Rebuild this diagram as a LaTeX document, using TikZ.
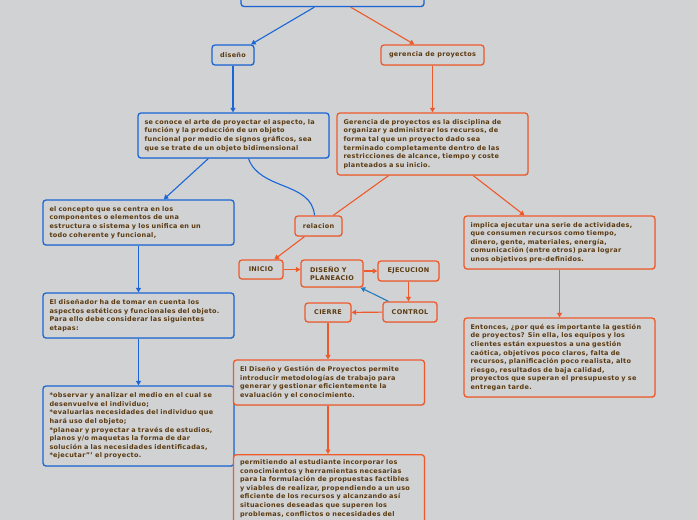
\documentclass[tikz,border=0pt]{standalone}
\usepackage{fontspec}
\setmainfont{DejaVu Sans}[LetterSpace=4.5]
\usetikzlibrary{arrows.meta,shadows}
\definecolor{bggray}{HTML}{D1D2D4}
\definecolor{mapblue}{HTML}{1A66D6}
\definecolor{maporange}{HTML}{EF5A2A}
\definecolor{backblue}{HTML}{1F7BC2}
\definecolor{textbrown}{HTML}{5A3A10}

\begin{document}
\begin{tikzpicture}[x=1pt,y=-1pt,
  box/.style={rounded corners=3pt, line width=1.3pt, fill=bggray, text=textbrown,
    font=\fontsize{6.5}{8.6}\selectfont\bfseries,
    drop shadow={shadow xshift=0.6pt,shadow yshift=-0.9pt,opacity=0.25}},
  bluebox/.style={box, draw=mapblue},
  orangebox/.style={box, draw=maporange},
  bigtext/.style={text width=178pt, align=left, inner xsep=6.5pt, inner ysep=4pt,
    execute at begin node={\hyphenpenalty=10000}},
  blueline/.style={draw=mapblue, line width=1.1pt, -{Triangle[length=4.5pt,width=5pt]}},
  orangeline/.style={draw=maporange, line width=1.1pt, -{Triangle[length=4.5pt,width=5pt]}}]
  \useasboundingbox (0,0) rectangle (697,520);
  \fill[bggray] (0,0) rectangle (697,520);
  \clip (0,0) rectangle (697,520);

  \node[bluebox, minimum width=183pt, minimum height=20pt] (top) at (332.5,-3.5) {relacion de diseño y gerencia de proyectos};
  \node[bluebox, minimum width=42pt, minimum height=20pt] (diseno) at (233,55) {diseño};
  \node[orangebox, minimum width=103pt, minimum height=20pt] (gerencia) at (432.5,55) {gerencia de proyectos};

  \node[bluebox, bigtext, minimum height=45pt] (arte) at (233.5,135.5) {se conoce el arte de proyectar el aspecto, la\\función y la producción de un objeto\\funcional por medio de signos gráficos, sea\\que se trate de un objeto bidimensional};
  \node[orangebox, bigtext, minimum height=62pt] (disciplina) at (432.5,144) {Gerencia de proyectos es la disciplina de\\organizar y administrar los recursos, de\\forma tal que un proyecto dado sea\\terminado completamente dentro de las\\restricciones de alcance, tiempo y coste\\planteados a su inicio.};
  \node[bluebox, bigtext, minimum height=45pt] (concepto) at (138.5,222.5) {el concepto que se centra en los\\componentes o elementos de una\\estructura o sistema y los unifica en un\\todo coherente y funcional,};
  \node[bluebox, bigtext, minimum height=45pt] (disenador) at (138.5,315.5) {El diseñador ha de tomar en cuenta los\\aspectos estéticos y funcionales del objeto.\\Para ello debe considerar las siguientes\\etapas:};
  \node[bluebox, bigtext, minimum height=80pt] (etapas) at (138.5,426) {*observar y analizar el medio en el cual se\\desenvuelve el individuo;\\{}*evaluarlas necesidades del individuo que\\hará uso del objeto;\\{}*planear y proyectar a través de estudios,\\planos y/o maquetas la forma de dar\\solución a las necesidades identificadas,\\{}*ejecutar"' el proyecto.};

  \node[orangebox, minimum width=47pt, minimum height=20pt] (relacion) at (318.5,226) {relacion};
  \node[orangebox, minimum width=44pt, minimum height=19pt] (inicio) at (261,269.5) {INICIO};
  \node[orangebox, minimum width=62pt, minimum height=27pt, align=left] (planea) at (332,273.5) {DISEÑO Y\\PLANEACIO};
  \node[orangebox, minimum width=61pt, minimum height=20pt] (ejecucion) at (408.5,271) {EJECUCION};
  \node[orangebox, minimum width=54pt, minimum height=20pt] (control) at (410,312) {CONTROL};
  \node[orangebox, minimum width=46pt, minimum height=19pt] (cierre) at (328,312.5) {CIERRE};

  \node[orangebox, bigtext, minimum height=45pt] (gestion) at (329,382.5) {El Diseño y Gestión de Proyectos permite\\introducir metodologías de trabajo para\\generar y gestionar eficientemente la\\evaluación y el conocimiento.};
  \node[orangebox, bigtext, anchor=north, inner ysep=5pt] (estudiante) at (329,454) {permitiendo al estudiante incorporar los\\conocimientos y herramientas necesarias\\para la formulación de propuestas factibles\\y viables de realizar, propendiendo a un uso\\eficiente de los recursos y alcanzando así\\situaciones deseadas que superen los\\problemas, conflictos o necesidades del\\ };

  \node[orangebox, bigtext, minimum height=53pt] (implica) at (559.5,242.5) {implica ejecutar una serie de actividades,\\que consumen recursos como tiempo,\\dinero, gente, materiales, energía,\\comunicación (entre otros) para lograr\\unos objetivos pre-definidos.};
  \node[orangebox, bigtext, minimum height=79pt] (entonces) at (559.5,357.5) {Entonces, ¿por qué es importante la gestión\\de proyectos? Sin ella, los equipos y los\\clientes están expuestos a una gestión\\caótica, objetivos poco claros, falta de\\recursos, planificación poco realista, alto\\riesgo, resultados de baja calidad,\\proyectos que superan el presupuesto y se\\entregan tarde.};

  \draw[blueline] (top) -- (diseno);
  \draw[orangeline] (top) -- (gerencia);
  \draw[blueline] (diseno) -- (diseno |- arte.north);
  \draw[orangeline] (gerencia) -- (gerencia |- disciplina.north);
  \draw[blueline] (arte) -- (concepto);
  \draw[draw=mapblue, line width=1.1pt] ([xshift=15pt]arte.south) to[out=-70,in=95] ([xshift=-4pt]relacion.north);
  \draw[draw=maporange, line width=1.1pt] (disciplina) -- (relacion);
  \draw[orangeline] (disciplina) -- (implica);
  \draw[orangeline] (relacion) -- (inicio);
  \draw[orangeline] (inicio) -- (inicio -| planea.west);
  \draw[orangeline] (planea.east |- ejecucion) -- (ejecucion);
  \draw[orangeline] (ejecucion) -- (ejecucion |- control.north);
  \draw[draw=backblue, line width=1.1pt, -{Triangle[length=4.5pt,width=5pt]}] (control) -- (planea);
  \draw[orangeline] (control) -- (cierre);
  \draw[orangeline] (cierre) -- (cierre |- gestion.north);
  \draw[orangeline] (gestion.south -| cierre) -- (estudiante.north -| cierre);
  \draw[blueline] (concepto) -- (disenador);
  \draw[blueline] (disenador) -- (etapas);
  \draw[orangeline] (implica) -- (entonces);
\end{tikzpicture}
\end{document}
